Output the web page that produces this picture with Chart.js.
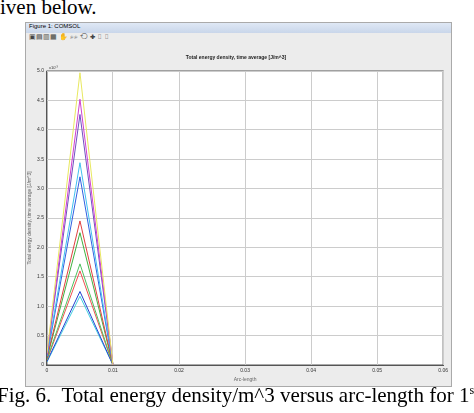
<!DOCTYPE html>
<html><head><meta charset="utf-8">
<script src="https://cdn.jsdelivr.net/npm/chart.js"></script>
<style>
body{margin:0;width:474px;height:413px;background:#fff;position:relative;overflow:hidden;font-family:"Liberation Serif",serif}
#top{position:absolute;left:0;top:-5px;font-size:21px}
#win{position:absolute;left:25px;top:22px;width:425px;height:363px;background:#ececec;border:1px solid #aaa}
#bar{height:10px;background:linear-gradient(#dfe8f5,#c9d6ea);font:6px sans-serif;padding-left:3px}
#tools{height:11px;font:7px sans-serif;color:#444;padding-left:3px}
#box{position:absolute;left:0;top:26px;width:425px;height:337px}
#cap{position:absolute;left:-3px;top:383px;font-size:21px;white-space:nowrap}
</style></head><body>
<div id="top">iven below.</div>
<div id="win"><div id="bar">Figure 1: COMSOL</div><div id="tools">▣▤▥▦ ✋ ⌕⌕ ⟲ ✚ ▯ ▯</div>
<div id="box"><canvas id="c"></canvas></div></div>
<div id="cap">Fig. 6.&nbsp; Total energy density/m^3 versus arc-length for 1<sup style="font-size:12px">st</sup></div>
<script>
const xPoints = [0, 0.005, 0.01];
const peaks = [4.97, 4.52, 4.26, 3.44, 3.2, 2.45, 2.25, 1.72, 1.6, 1.25, 1.17];
const starts = [0.2, 0.18, 0.17, 0.15, 0.14, 0.12, 0.11, 0.09, 0.08, 0.06, 0.05];
const colors = ["#e8e860", "#d040d0", "#7050c0", "#40c0f0", "#3060e0", "#e04040", "#40b040", "#50c060", "#f05050", "#2040d0", "#40d0e0"];
const xTicks = [0, 0.01, 0.02, 0.03, 0.04, 0.05, 0.06];

const datasets = peaks.map((p, i) => ({
  data: [{x: xPoints[0], y: starts[i]}, {x: xPoints[1], y: p}, {x: xPoints[2], y: 0}],
  borderColor: colors[i], borderWidth: 1, pointRadius: 0, fill: false, tension: 0
}));

const tickFont = {size: 5, family: "Liberation Sans"};
new Chart(document.getElementById("c"), {
  type: "line",
  data: {datasets},
  options: {
    responsive: true, maintainAspectRatio: false, animation: false,
    layout: {padding: {left: 0, right: 5, top: 0, bottom: 3}},
    plugins: {
      legend: {display: false},
      title: {display: true, text: "Total energy density, time average [J/m^3]", font: {size: 5}, color: "#222", padding: {top: 6, bottom: 10}},
      tooltip: {enabled: false}
    },
    scales: {
      x: {type: "linear", min: 0, max: 0.06,
        afterBuildTicks: a => { a.ticks = xTicks.map(v => ({value: v})); },
        ticks: {font: tickFont, color: "#333", maxRotation: 0},
        grid: {color: "#ccc", borderDash: [1, 2], drawTicks: false},
        border: {color: "#555"},
        title: {display: true, text: "Arc-length", font: tickFont, padding: 0}},
      y: {min: 0, max: 5, ticks: {stepSize: 0.5, font: tickFont, color: "#333"},
        grid: {color: "#ccc", borderDash: [1, 2], drawTicks: false},
        border: {color: "#555"},
        title: {display: true, text: "Total energy density, time average [J/m^3]", font: tickFont, padding: 1}}
    }
  },
  plugins: [{id: "bg", beforeDraw(ch) {
    const a = ch.chartArea, g = ch.ctx;
    g.save(); g.fillStyle = "#fff"; g.fillRect(a.left, a.top, a.right - a.left, a.bottom - a.top);
    g.strokeStyle = "#555"; g.strokeRect(a.left, a.top, a.right - a.left, a.bottom - a.top);
    g.font = "4px Liberation Sans"; g.fillStyle = "#333"; g.fillText("x10\u207B\u00B3", a.left + 2, a.top - 2);
    g.restore();
  }}]
});
</script></body></html>
